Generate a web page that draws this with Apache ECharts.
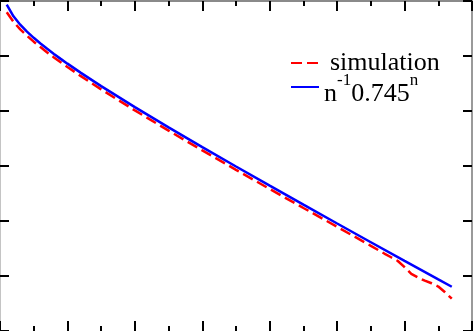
<!DOCTYPE html>
<html>
<head>
<meta charset="utf-8">
<script src="https://cdn.jsdelivr.net/npm/echarts@6/dist/echarts.min.js"></script>
<style>
html,body{margin:0;padding:0;background:#fff;}
#chart{width:474px;height:331px;}
</style>
</head>
<body>
<div id="chart"></div>
<script>
// x: n, y: probability (log scale)
const xTicks = [0, 10, 20, 30, 40, 50, 60, 70];
const yTicks = [1e-12, 1e-10, 1e-8, 1e-6, 1e-4, 1e-2, 1];

const nSim = [1, 2, 3, 4, 5, 6, 7, 8, 9, 10, 12, 15, 20, 25, 30, 35, 40, 45, 50, 55, 57, 58, 59, 60, 61, 62, 63, 64, 65, 66, 67];
const simulation = [0.3908, 0.1751, 0.0932, 0.05452, 0.03325, 0.02113, 0.01349, 0.008896, 0.005958, 0.003995,
  0.001848, 6.112e-4, 1.0522e-4, 1.932e-5, 3.694e-6, 7.266e-7, 1.459e-7, 2.977e-8, 6.148e-9, 1.2535e-9,
  6.561e-10, 4.803e-10, 3.518e-10, 2.096e-10, 1.2029e-10, 8.81e-11, 6.745e-11, 5.433e-11, 4.150e-11, 2.553e-11, 1.496e-11];

const nFit = [1, 2, 3, 4, 5, 6, 7, 8, 9, 10, 12, 15, 20, 25, 30, 35, 40, 45, 50, 55, 60, 65, 67];
const fit = [0.745, 0.27751, 0.137831, 0.077013, 0.045900, 0.028496, 0.018197, 0.011862, 0.0078553, 0.0052670,
  0.0024359, 8.058e-4, 1.3874e-4, 2.5465e-5, 4.870e-6, 9.580e-7, 1.9236e-7, 3.925e-8, 8.105e-9, 1.6912e-9,
  3.557e-10, 7.539e-11, 4.059e-11];

const seriesNames = ['simulation', 'fit'];

const chart = echarts.init(document.getElementById('chart'), null, {renderer: 'canvas'});

const tickStyle = {color: '#000', width: 2};
function xAxisCfg(pos, lineColor) {
  return {
    type: 'value', position: pos, min: xTicks[0], max: xTicks[xTicks.length - 1], interval: 10,
    axisLine: {show: !!lineColor, onZero: false, lineStyle: {color: lineColor || '#000', width: 2}},
    axisTick: {show: true, inside: true, length: 10, lineStyle: tickStyle},
    minorTick: {show: true, splitNumber: 2, length: 5, lineStyle: tickStyle},
    axisLabel: {show: false}, splitLine: {show: false}, minorSplitLine: {show: false}
  };
}
function yAxisCfg(pos, lineColor) {
  return {
    type: 'log', logBase: 100, position: pos, min: yTicks[0], max: yTicks[yTicks.length - 1],
    axisLine: {show: true, onZero: false, lineStyle: {color: lineColor, width: 2}},
    axisTick: {show: true, inside: true, length: 9, lineStyle: tickStyle},
    minorTick: {show: false},
    axisLabel: {show: false}, splitLine: {show: false}, minorSplitLine: {show: false}
  };
}

const F = "'Liberation Serif', 'DejaVu Serif', serif";
chart.setOption({
  animation: false,
  backgroundColor: '#fff',
  grid: {left: 0, right: 2, top: 1, bottom: 0, containLabel: false},
  xAxis: [xAxisCfg('bottom', null), xAxisCfg('top', '#8a8a8a')],
  yAxis: [yAxisCfg('left', '#c4c4c4'), yAxisCfg('right', '#9a9a9a')],
  legend: {
    data: seriesNames,
    orient: 'vertical',
    left: 290, top: 50,
    padding: 0,
    itemGap: -9,
    itemWidth: 28, itemHeight: 14,
    itemStyle: {opacity: 0},
    formatter: function (name) {
      return name === 'simulation' ? '{a|simulation}' : '{t|n}{s|-1}{t|0.745}{s|n}';
    },
    textStyle: {
      color: '#000', fontFamily: F, fontSize: 26,
      rich: {
        a: {fontFamily: F, fontSize: 26, lineHeight: 14, padding: [0, 0, 0, 6], color: '#000'},
        t: {fontFamily: F, fontSize: 26, lineHeight: 26, verticalAlign: 'bottom', color: '#000'},
        s: {fontFamily: F, fontSize: 17, lineHeight: 40, padding: [5, 0, 0, 0], verticalAlign: 'top', color: '#000'}
      }
    }
  },
  series: [
    {
      name: seriesNames[0], type: 'line', xAxisIndex: 0, yAxisIndex: 0,
      data: nSim.map((n, i) => [n, simulation[i]]),
      showSymbol: false, symbol: 'none',
      itemStyle: {color: '#ff0000'},
      lineStyle: {color: '#ff0000', width: 2.5, type: [11, 5]}
    },
    {
      name: seriesNames[1], type: 'line', xAxisIndex: 0, yAxisIndex: 0,
      data: nFit.map((n, i) => [n, fit[i]]),
      showSymbol: false, symbol: 'none',
      itemStyle: {color: '#0000ff'},
      lineStyle: {color: '#0000ff', width: 2.5}
    }
  ]
});
</script>
</body>
</html>
